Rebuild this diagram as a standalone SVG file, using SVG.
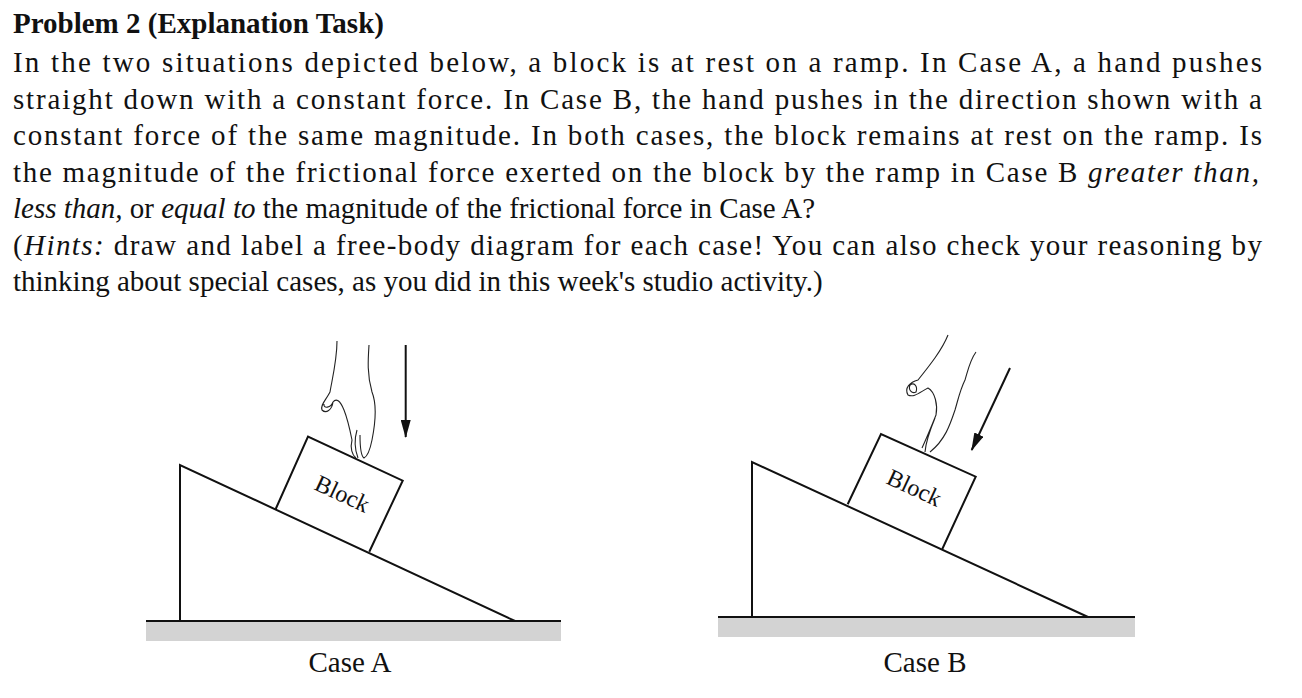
<svg xmlns="http://www.w3.org/2000/svg" width="1302" height="698" viewBox="0 0 1302 698">
<style>
.t{font-family:"Liberation Serif","Times New Roman",serif;font-size:29px;fill:#111}
.i{font-style:italic}
.ln{fill:none;stroke:#111;stroke-width:2}
.hd{fill:none;stroke:#222;stroke-width:1.1}
.gr{fill:#d3d3d3}
.bl{font-family:"Liberation Serif",serif;font-size:24px;fill:#111}
</style>
<defs><marker id="ah" markerWidth="18" markerHeight="10" refX="17" refY="5" orient="auto" markerUnits="userSpaceOnUse" viewBox="0 0 18 10"><path d="M0,0 L18,5 L0,10 Z" fill="#111"/></marker></defs>
<rect width="1302" height="698" fill="#fff"/>
<g id="text">
<text class="t" x="13" y="33" font-weight="bold" font-size="31">Problem 2 (Explanation Task)</text>
<text class="t" x="13" y="72" textLength="1249" lengthAdjust="spacing">In the two situations depicted below, a block is at rest on a ramp.  In Case A, a hand pushes</text>
<text class="t" x="13" y="109" textLength="1249" lengthAdjust="spacing">straight down with a constant force.  In Case B, the hand pushes in the direction shown with a</text>
<text class="t" x="13" y="145" textLength="1249" lengthAdjust="spacing">constant force of the same magnitude.  In both cases, the block remains at rest on the ramp.  Is</text>
<text class="t" x="13" y="182" textLength="1246" lengthAdjust="spacing">the magnitude of the frictional force exerted on the block by the ramp in Case B <tspan class="i">greater than,</tspan></text>
<text class="t" x="13" y="218"><tspan class="i">less than,</tspan> or <tspan class="i">equal to</tspan> the magnitude of the frictional force in Case A?</text>
<text class="t" x="13" y="255" textLength="1249" lengthAdjust="spacing">(<tspan class="i">Hints:</tspan> draw and label a free-body diagram for each case!  You can also check your reasoning by</text>
<text class="t" x="13" y="291">thinking about special cases, as you did in this week's studio activity.)</text>
</g>
<g id="caseA">
<rect class="gr" x="146" y="621" width="415" height="20"/>
<line class="ln" x1="146" y1="621" x2="561" y2="621" stroke-width="1.5"/>
<path class="ln" d="M180,621 L180,465 L515,621"/>
<g id="blockA"><path class="ln" d="M275.7,509 L308,436.7 L402.7,480.7 L369.3,551.7"/>
<text class="bl" transform="translate(339,501) rotate(25)" text-anchor="middle">Block</text></g>
<g id="handA"><path class="hd" d="M337,341 C337,360 332,380 330,392 C326,400 320,405 322,410 C326,414 332,410 333,402 C336,398 340,400 344,410 C348,420 350,430 352,440 C350,448 352,455 356,458 M333,402 C331,408 323,409 324,404 M369,345 C368,360 367,375 372,392 C376,402 376,420 372,440 C370,450 368,456 364,458 C361,456 360,445 360,435 M357,430 C354,440 355,450 358,458"/>
</g>
<text class="t" x="350" y="672" text-anchor="middle">Case A</text>
</g>
<g id="caseB">
<rect class="gr" x="718" y="617" width="417" height="20"/>
<line class="ln" x1="718" y1="617" x2="1135" y2="617" stroke-width="1.5"/>
<path class="ln" d="M752,617 L752,462 L1088,617"/>
<g id="blockB"><path class="ln" d="M847.7,504.3 L881,434 L975.7,476.7 L942.3,549"/>
<text class="bl" transform="translate(911,495) rotate(25)" text-anchor="middle">Block</text></g>
<g id="handB"><path class="hd" d="M948,335 C942,350 930,365 918,380 C910,382 904,388 908,395 C914,398 920,392 928,388 C935,392 938,405 936,415 C932,425 928,435 922,448 M910,385 C914,382 918,386 916,392 C912,394 908,390 910,385 M976,352 C970,360 968,370 965,380 C960,390 958,400 955,410 C950,425 945,440 930,452 M935,418 C930,430 926,440 925,452"/>
</g>
<text class="t" x="925" y="672" text-anchor="middle">Case B</text>
</g>
<g id="connectors">
<line class="ln" stroke-width="1.5" x1="405.7" y1="345" x2="405.7" y2="437" marker-end="url(#ah)"/>
<line class="ln" stroke-width="1.5" x1="1010" y1="368" x2="971.7" y2="450" marker-end="url(#ah)"/>
</g>
</svg>
